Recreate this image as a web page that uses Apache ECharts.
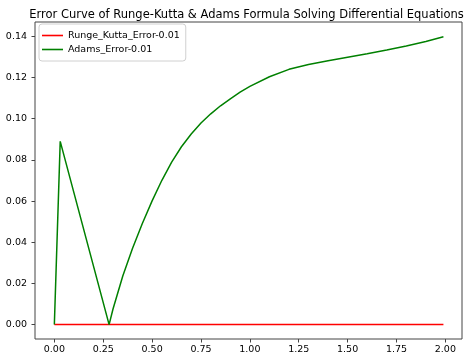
<!DOCTYPE html>
<html>
<head>
<meta charset="utf-8">
<script src="https://cdn.jsdelivr.net/npm/echarts@6/dist/echarts.min.js"></script>
<style>html,body{margin:0;padding:0;background:#fff}#c{width:474px;height:362px}</style>
</head>
<body>
<div id="c"></div>
<script>
var titleText = 'Error Curve of Runge-Kutta & Adams Formula Solving Differential Equations';
var rkName = 'Runge_Kutta_Error-0.01';
var adamsName = 'Adams_Error-0.01';
var xTicks = [0, 0.25, 0.5, 0.75, 1.0, 1.25, 1.5, 1.75, 2.0];
var yTicks = [0, 0.02, 0.04, 0.06, 0.08, 0.10, 0.12, 0.14];
var rkX = [0, 0.5, 1.0, 1.5, 1.99];
var rkY = [0, 0, 0, 0, 0];
var adamsX = [0, 0.03, 0.28, 0.30, 0.35, 0.40, 0.45, 0.50, 0.55, 0.60, 0.65, 0.70, 0.75, 0.80, 0.85, 0.90, 0.95, 1.00, 1.10, 1.20, 1.30, 1.40, 1.50, 1.60, 1.70, 1.80, 1.90, 1.99];
var adamsY = [0, 0.089, 0, 0.0076, 0.0236, 0.0371, 0.0491, 0.0601, 0.0701, 0.0789, 0.0864, 0.0926, 0.0979, 0.1024, 0.1063, 0.1097, 0.1129, 0.1157, 0.1204, 0.1240, 0.1264, 0.1282, 0.1299, 0.1316, 0.1334, 0.1353, 0.1375, 0.1398];

function pairs(xs, ys) { return xs.map(function (x, i) { return [x, ys[i]]; }); }

var FONT = 'DejaVu Sans';
var chart = echarts.init(document.getElementById('c'), null, {renderer: 'canvas'});
chart.setOption({
  animation: false,
  backgroundColor: '#fff',
  title: {
    text: titleText,
    left: 241.5, top: 4, textAlign: 'center',
    textStyle: {fontFamily: FONT, fontSize: 11.5, fontWeight: 'normal', color: '#000'}
  },
  grid: {left: 35, right: 12, top: 22, bottom: 23, show: true, borderColor: '#444', borderWidth: 1, backgroundColor: 'transparent'},
  legend: {
    orient: 'vertical', left: 39, top: 24,
    data: [{name: rkName}, {name: adamsName}],
    icon: 'rect',
    itemWidth: 21, itemHeight: 1.6, itemGap: 3,
    padding: [6, 6, 6, 3],
    borderColor: '#d0d0d0', borderWidth: 1, borderRadius: 3, backgroundColor: 'rgba(255,255,255,0.8)',
    textStyle: {fontFamily: FONT, fontSize: 9.5, lineHeight: 11, color: '#000'}
  },
  xAxis: {
    type: 'value', min: -0.099, max: 2.085,
    splitLine: {show: false},
    axisLine: {show: false, onZero: false},
    axisTick: {show: true, inside: false, length: 3.5, customValues: xTicks, lineStyle: {color: '#444'}},
    axisLabel: {customValues: xTicks, margin: 6, fontFamily: FONT, fontSize: 9.5, color: '#000',
      formatter: function (v) { return v.toFixed(2); }}
  },
  yAxis: {
    type: 'value', min: -0.007, max: 0.147,
    splitLine: {show: false},
    axisLine: {show: false, onZero: false},
    axisTick: {show: true, inside: false, length: 3.5, customValues: yTicks, lineStyle: {color: '#444'}},
    axisLabel: {customValues: yTicks, margin: 8, fontFamily: FONT, fontSize: 9.5, color: '#000',
      formatter: function (v) { return v.toFixed(2); }}
  },
  series: [
    {name: rkName, type: 'line', data: pairs(rkX, rkY), symbol: 'none', lineStyle: {color: '#ff0000', width: 1.5}, itemStyle: {color: '#ff0000'}},
    {name: adamsName, type: 'line', data: pairs(adamsX, adamsY), symbol: 'none', lineStyle: {color: '#008000', width: 1.5}, itemStyle: {color: '#008000'}}
  ]
});
</script>
</body>
</html>
